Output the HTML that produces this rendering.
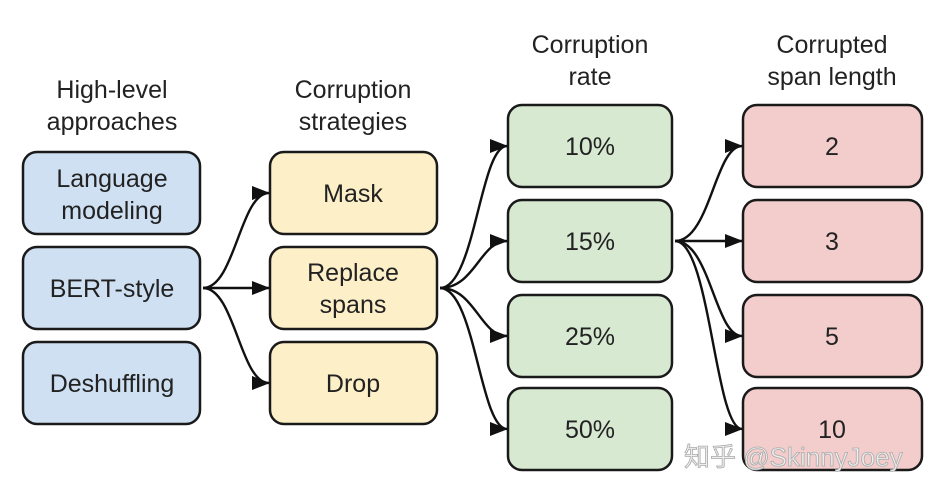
<!DOCTYPE html>
<html><head><meta charset="utf-8"><style>
body{margin:0;background:#fff;}
svg{display:block;font-family:"Liberation Sans",Arial,sans-serif;}
</style></head><body>
<svg width="948" height="498" viewBox="0 0 948 498">
<defs><marker id="a" markerWidth="18" markerHeight="14" refX="17" refY="7" orient="auto" markerUnits="userSpaceOnUse" viewBox="0 0 18 14"><path d="M0,0 L18,7 L0,14 z" fill="#111"/></marker></defs>
<g font-size="25" fill="#222" text-anchor="middle">
<text x="112" y="98">High-level</text><text x="112" y="130">approaches</text>
<text x="353" y="98">Corruption</text><text x="353" y="130">strategies</text>
<text x="590" y="53">Corruption</text><text x="590" y="85">rate</text>
<text x="832" y="53">Corrupted</text><text x="832" y="85">span length</text>
</g>
<g stroke="#1a1a1a" stroke-width="2.5">
<g fill="#cfe0f3">
<rect x="23" y="152" width="177" height="82" rx="14"/>
<rect x="23" y="247" width="177" height="82" rx="14"/>
<rect x="23" y="342" width="177" height="82" rx="14"/>
</g>
<g fill="#fdefc8">
<rect x="270" y="152" width="167" height="82" rx="14"/>
<rect x="270" y="247" width="167" height="82" rx="14"/>
<rect x="270" y="342" width="167" height="82" rx="14"/>
</g>
<g fill="#d8e9d2">
<rect x="508" y="105" width="164" height="82" rx="14"/>
<rect x="508" y="200" width="164" height="82" rx="14"/>
<rect x="508" y="295" width="164" height="82" rx="14"/>
<rect x="508" y="388" width="164" height="82" rx="14"/>
</g>
<g fill="#f3cccc">
<rect x="743" y="105" width="179" height="82" rx="14"/>
<rect x="743" y="200" width="179" height="82" rx="14"/>
<rect x="743" y="295" width="179" height="82" rx="14"/>
<rect x="743" y="388" width="179" height="82" rx="14"/>
</g>
</g>
<g fill="none" stroke="#111" stroke-width="2.4" marker-end="url(#a)">
<path d="M203,288 C235,288 240,193 269,193"/>
<path d="M203,288 L269,288"/>
<path d="M203,288 C235,288 240,383 269,383"/>
<path d="M440,288 C475,288 480,146 507,146"/>
<path d="M440,288 C475,288 480,241 507,241"/>
<path d="M440,288 C475,288 480,336 507,336"/>
<path d="M440,288 C475,288 480,429 507,429"/>
<path d="M675,241 C710,241 715,146 742,146"/>
<path d="M675,241 L742,241"/>
<path d="M675,241 C710,241 715,336 742,336"/>
<path d="M675,241 C710,241 715,429 742,429"/>
</g>
<g font-size="25" fill="#222" text-anchor="middle">
<text x="112" y="187">Language</text><text x="112" y="219">modeling</text>
<text x="112" y="297">BERT-style</text>
<text x="112" y="392">Deshuffling</text>
<text x="353" y="202">Mask</text>
<text x="353" y="281">Replace</text><text x="353" y="313">spans</text>
<text x="353" y="392">Drop</text>
<text x="590" y="155">10%</text><text x="590" y="250">15%</text><text x="590" y="345">25%</text><text x="590" y="438">50%</text>
<text x="832" y="155">2</text><text x="832" y="250">3</text><text x="832" y="345">5</text><text x="832" y="438">10</text>
</g>
<text x="684" y="466" font-size="26" fill="#eee" stroke="#aaa" stroke-width="0.8" font-family="'Liberation Sans','Noto Sans CJK SC',sans-serif">知乎 @SkinnyJoey</text>
</svg>
</body></html>
